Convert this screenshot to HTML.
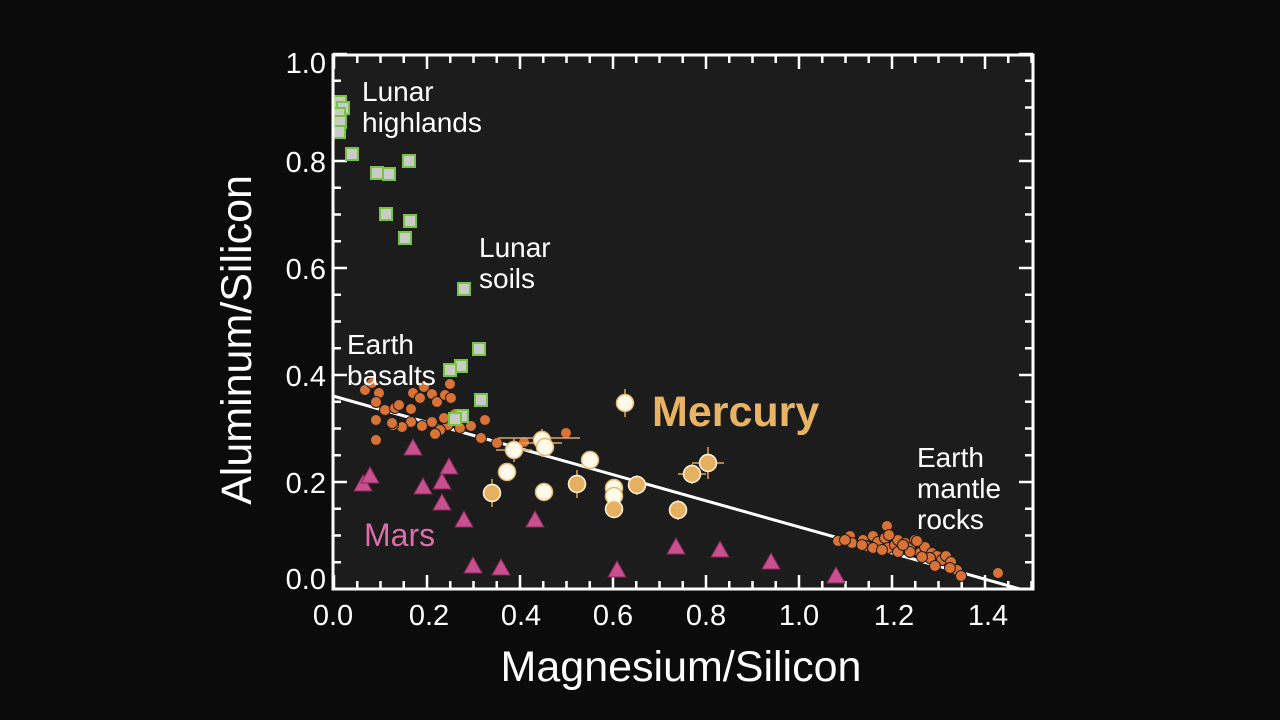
<!DOCTYPE html>
<html><head><meta charset="utf-8"><style>
html,body{margin:0;padding:0;background:#0b0b0b;}
svg{display:block;font-family:"Liberation Sans",sans-serif;}
</style></head><body>
<svg width="1280" height="720" viewBox="0 0 1280 720" xmlns="http://www.w3.org/2000/svg">
<rect x="0" y="0" width="1280" height="720" fill="#0b0b0b"/>
<rect x="333" y="55" width="700" height="534" fill="#1c1c1c"/>
<g id="ticks" stroke="#fff" stroke-width="2.5"></g>
<line x1="333" y1="396" x2="1020" y2="589" stroke="#fff" stroke-width="3"/>
<g id="pts"></g>
<rect x="333" y="55" width="700" height="534" fill="none" stroke="#fff" stroke-width="3"/>
<g fill="#fff" font-size="29" text-anchor="end">
<text x="326" y="73">1.0</text><text x="326" y="172">0.8</text><text x="326" y="279">0.6</text>
<text x="326" y="386">0.4</text><text x="326" y="493">0.2</text><text x="326" y="589">0.0</text>
</g>
<g fill="#fff" font-size="29" text-anchor="middle">
<text x="333" y="625">0.0</text><text x="429" y="625">0.2</text><text x="521" y="625">0.4</text>
<text x="613" y="625">0.6</text><text x="706" y="625">0.8</text><text x="799" y="625">1.0</text>
<text x="894" y="625">1.2</text><text x="988" y="625">1.4</text>
</g>
<text x="681" y="681" fill="#fff" font-size="43" text-anchor="middle">Magnesium/Silicon</text>
<text transform="translate(251,340) rotate(-90)" fill="#fff" font-size="43" text-anchor="middle">Aluminum/Silicon</text>
<g fill="#fff" font-size="28">
<text x="362" y="101">Lunar</text><text x="362" y="132">highlands</text>
<text x="479" y="257">Lunar</text><text x="479" y="288">soils</text>
<text x="347" y="354">Earth</text><text x="347" y="385">basalts</text>
<text x="917" y="467">Earth</text><text x="917" y="498">mantle</text><text x="917" y="529">rocks</text>
</g>
<text x="364" y="546" fill="#d86fa8" font-size="32">Mars</text>
<text x="652" y="426" fill="#e8b464" font-size="43" font-weight="bold">Mercury</text>
</svg>
<script>
const NS="http://www.w3.org/2000/svg";
function el(p,t,a){const e=document.createElementNS(NS,t);for(const k in a)e.setAttribute(k,a[k]);p.appendChild(e);return e;}
const tk=document.getElementById('ticks');
for(let i=0;i<=30;i++){const x=334+i*23.25;if(x>1032)break;const L=(i%4==0)?14:8;
el(tk,'line',{x1:x,y1:589,x2:x,y2:589-L});el(tk,'line',{x1:x,y1:55,x2:x,y2:55+L});}
for(let i=0;i<=20;i++){const y=589-i*26.75;const L=(i%4==0)?14:8;
el(tk,'line',{x1:333,y1:y,x2:333+L,y2:y});el(tk,'line',{x1:1033,y1:y,x2:1033-L,y2:y});}
const g=document.getElementById('pts');
const basalt=[[365,390],[372,383],[379,393],[376,402],[385,410],[395,408],[399,405],[411,409],[413,393],[420,398],[424,387],[432,394],[437,402],[445,395],[450,384],[451,398],[455,414],[448,425],[440,430],[432,422],[422,426],[411,422],[402,427],[393,425],[376,420],[376,440],[392,423],[460,428],[471,426],[481,438],[485,420],[482,400],[497,443],[524,442],[566,433],[435,434],[444,418]];
const mantle=[[838,541],[850,536],[852,543],[863,540],[866,546],[873,536],[878,542],[885,538],[887,526],[888,548],[895,545],[898,540],[905,543],[910,548],[915,540],[920,553],[925,547],[932,553],[937,556],[942,560],[946,556],[951,562],[957,570],[917,541],[889,535],[930,558],[862,545],[873,548],[882,550],[898,552],[910,552],[922,557],[935,566],[950,568],[961,576],[998,573],[845,540],[903,545]];
basalt.concat(mantle).forEach(p=>el(g,'circle',{cx:p[0],cy:p[1],r:5.5,fill:'#d97236',stroke:'#1c1c1c','stroke-width':1}));
const sq=[[340,102],[343,108],[339,114],[340,122],[339,132],[352,154],[377,173],[389,174],[409,161],[386,214],[410,221],[405,238],[464,289],[479,349],[461,366],[450,370],[462,416],[455,419],[481,400]];
sq.forEach(p=>el(g,'rect',{x:p[0]-6,y:p[1]-6,width:12,height:12,fill:'#c9cbc6',stroke:'#78c440','stroke-width':2}));
const tri=[[363,484],[370,476],[413,448],[423,487],[442,482],[449,467],[442,503],[464,520],[473,566],[501,568],[535,520],[617,570],[676,547],[720,550],[771,562],[836,576]];
tri.forEach(p=>el(g,'polygon',{points:`${p[0]},${p[1]-9} ${p[0]-9},${p[1]+7} ${p[0]+9},${p[1]+7}`,fill:'#c9508f',stroke:'#8a2a5a','stroke-width':1}));
const eb=[[625,403,0,14],[514,450,18,12],[542,443,20,14],[492,493,0,14],[577,484,0,14],[637,485,0,10],[678,510,0,10],[692,474,14,10],[708,463,16,16]];
eb.forEach(e=>{if(e[2])el(g,'line',{x1:e[0]-e[2],y1:e[1],x2:e[0]+e[2],y2:e[1],stroke:'#d9a860','stroke-width':1.5});
el(g,'line',{x1:e[0],y1:e[1]-e[3],x2:e[0],y2:e[1]+e[3],stroke:'#d9a860','stroke-width':1.5});});
el(g,'line',{x1:498,y1:438,x2:580,y2:438,stroke:'#d9a860','stroke-width':1.5});
const wh=[[625,403],[514,450],[542,440],[545,447],[507,472],[544,492],[590,460],[614,488],[614,496]];
const tan=[[492,493],[577,484],[637,485],[614,509],[678,510],[692,474],[708,463]];
wh.forEach(p=>el(g,'circle',{cx:p[0],cy:p[1],r:8.5,fill:'#fff9ea',stroke:'#e0b870','stroke-width':1.5}));
tan.forEach(p=>el(g,'circle',{cx:p[0],cy:p[1],r:8.5,fill:'#e6b062',stroke:'#fff3d8','stroke-width':1.5}));
</script>
</body></html>
